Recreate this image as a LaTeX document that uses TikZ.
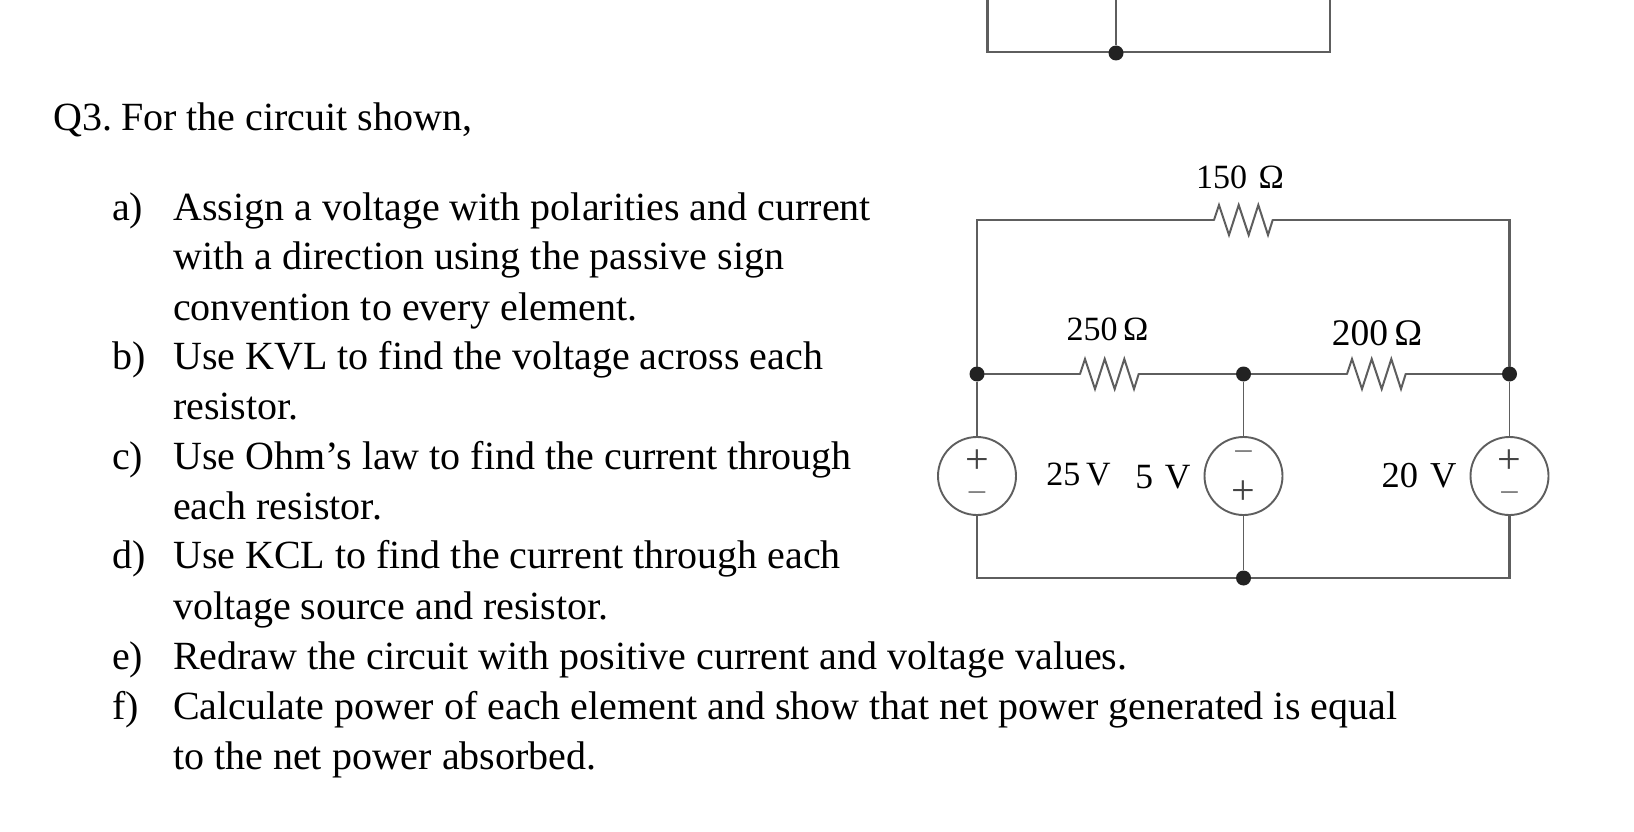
\documentclass[tikz,border=0pt]{standalone}
\usepackage{fontspec}
\usetikzlibrary{backgrounds}
\setmainfont{Liberation Serif}
\definecolor{wirecol}{HTML}{5E5E5E}
\definecolor{dotcol}{HTML}{222222}
\definecolor{signcol}{HTML}{444444}
\tikzset{
  wire/.style={draw=wirecol,line width=2.3pt,line cap=round,line join=miter},
  vwire/.style={draw=wirecol,line width=1.9pt},
  dot/.style={circle,fill=dotcol,draw=none,minimum size=15pt,inner sep=0pt},
  srcnode/.style={circle,draw=wirecol,line width=1.9pt,minimum size=78pt,inner sep=0pt,fill=white},
  body/.style={anchor=base west,inner sep=0pt,font=\fontsize{40}{40}\selectfont},
  val/.style={inner sep=0pt,anchor=base,text=black},
  sign/.style={inner sep=0pt,text=signcol,font=\fontsize{42}{42}\selectfont},
  minus/.style={inner sep=0pt,text=signcol!70,font=\fontsize{36}{36}\selectfont},
  pics/zig/.style={code={\draw[wirecol,line width=2pt,line join=miter]
    (0,0)--(5,-15)--(15,15)--(24.7,-15)--(34.7,15)--(44.3,-15)--(54,15)--(58.7,0);}}
}
\begin{document}
\begin{tikzpicture}[x=1pt,y=-1pt]
\useasboundingbox (0,0) rectangle (1634,832);
% nodes
\node[dot] (d0) at (1116,53) {};
\node[dot] (ml) at (977,374) {};
\node[dot] (mm) at (1243.5,374) {};
\node[dot] (mr) at (1509.5,374) {};
\node[dot] (bm) at (1243.5,578) {};
\node[srcnode] (s1) at (977,476) {};
\node[srcnode] (s2) at (1243.5,476) {};
\node[srcnode] (s3) at (1509.5,476) {};
% free ends
\coordinate (bl0) at (987.5,-2);
\coordinate (br0) at (1330,-2);
\coordinate (bm0) at (1116,-2);
\coordinate (bbl) at (987.5,52);
\coordinate (bbr) at (1330,52);
\coordinate (tl) at (977,220);
\coordinate (tr) at (1509.5,220);
\coordinate (bl) at (977,578);
\coordinate (br) at (1509.5,578);
\coordinate (r1w) at (1214,220);
\coordinate (r1e) at (1272.7,220);
\coordinate (r2w) at (1080,374);
\coordinate (r2e) at (1138.7,374);
\coordinate (r3w) at (1347,374);
\coordinate (r3e) at (1405.7,374);
% wires
\begin{scope}[on background layer]
\draw[wire] (bl0)--(bbl)--(bbr)--(br0);
\draw[vwire] (bm0)--(d0);
\draw[wire] (ml)--(tl)--(r1w);
\draw[wire] (r1e)--(tr)--(mr);
\draw[wire] (ml)--(r2w);
\draw[wire] (r2e)--(mm);
\draw[wire] (mm)--(r3w);
\draw[wire] (r3e)--(mr);
\draw[vwire] (ml)--(s1);
\draw[vwire] (mm)--(s2);
\draw[vwire] (mr)--(s3);
\draw[vwire] (s2)--(bm);
\draw[wire] (s1)--(bl)--(bm);
\draw[wire] (bm)--(br)--(s3);
\pic at (r1w) {zig};
\pic at (r2w) {zig};
\pic at (r3w) {zig};
\end{scope}
% source signs
\node[sign] (p1) at (977,462) {+};
\node[minus] (n1) at (977,498) {\char"2212};
\node[minus] (n2) at (1243.5,457) {\char"2212};
\node[sign] (p2) at (1243.5,493) {+};
\node[sign] (p3) at (1509.5,462) {+};
\node[minus] (n3) at (1509.5,498) {\char"2212};
% values
\node[val,font=\fontsize{34}{34}\selectfont] (v150) at (1240,189) {150\,\,Ω};
\node[val,font=\fontsize{34}{34}\selectfont] (v250) at (1107.5,340) {250\,Ω};
\node[val,font=\fontsize{37.5}{37.5}\selectfont] (v200) at (1377,345) {200\,Ω};
\node[val,font=\fontsize{34}{34}\selectfont] (v25) at (1078.5,485) {25\,V};
\node[val,font=\fontsize{35.5}{35.5}\selectfont] (v5) at (1163,488) {5\,\,V};
\node[val,font=\fontsize{36.5}{36.5}\selectfont] (v20) at (1419,487) {20\,\,V};
% text
\node[body] (q) at (53,131) {Q3.\kern9pt For the circuit shown,};
\node[body] (la) at (112,220) {a)};
\node[body] (ta1) at (173,220) {Assign a voltage with polarities and current};
\node[body] (ta2) at (173,269) {with a direction using the passive sign};
\node[body] (ta3) at (173,320) {convention to every element.};
\node[body] (lb) at (112,369) {b)};
\node[body] (tb1) at (173,369) {Use KVL to find the voltage across each};
\node[body] (tb2) at (173,419) {resistor.};
\node[body] (lc) at (112,469) {c)};
\node[body] (tc1) at (173,469) {Use Ohm’s law to find the current through};
\node[body] (tc2) at (173,519) {each resistor.};
\node[body] (ld) at (112,568) {d)};
\node[body] (td1) at (173,568) {Use KCL to find the current through each};
\node[body] (td2) at (173,619) {voltage source and resistor.};
\node[body] (le) at (112,669) {e)};
\node[body] (te1) at (173,669) {Redraw the circuit with positive current and voltage values.};
\node[body] (lf) at (112,719) {f)};
\node[body] (tf1) at (173,719) {Calculate power of each element and show that net power generated is equal};
\node[body] (tf2) at (173,769) {to the net power absorbed.};
\end{tikzpicture}
\end{document}
